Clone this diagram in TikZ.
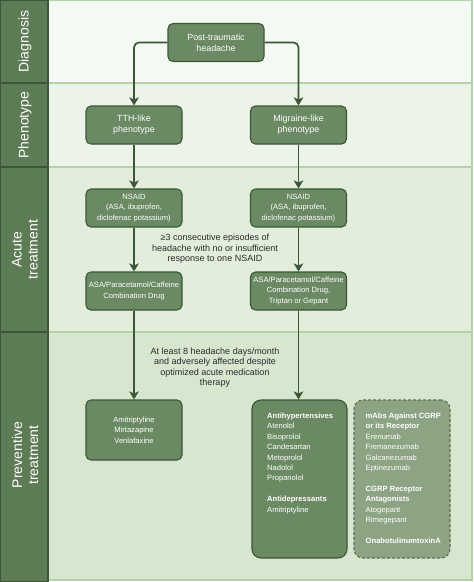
\documentclass[tikz,border=0pt]{standalone}
\usepackage{fontspec}
\setmainfont{Liberation Sans}
\usetikzlibrary{arrows.meta}
\definecolor{stripgreen}{HTML}{5D7B55}
\definecolor{darkgreen}{HTML}{3B5737}
\definecolor{boxgreen}{HTML}{6B8A63}
\definecolor{paleboxgreen}{HTML}{8CA483}
\definecolor{dashgrey}{HTML}{5E7059}
\definecolor{laneline}{HTML}{B3D2A7}
\definecolor{laneone}{HTML}{F5F9F3}
\definecolor{lanetwo}{HTML}{ECF3E8}
\definecolor{lanethree}{HTML}{E2EDDB}
\definecolor{lanefour}{HTML}{D6E6CF}
\definecolor{notegrey}{HTML}{2B2B2B}

\begin{document}
\begin{tikzpicture}[x=1pt,y=-1pt]
\tikzstyle{every node}+=[inner sep=0pt]
\tikzstyle{box}=[draw=darkgreen, fill=boxgreen, line width=1.1pt, rounded corners=5pt, text=white, align=center, minimum width=96pt, minimum height=38pt, font=\fontsize{7.6}{10.5}\selectfont]
\tikzstyle{bigbox}=[box, font=\fontsize{8.9}{11}\selectfont]
\tikzstyle{drugs}=[text=white, align=left, anchor=north west, font=\fontsize{7.6}{10.45}\selectfont]
\tikzstyle{flow}=[draw=darkgreen, line width=1.7pt, -{Stealth[length=8pt,width=9.5pt,inset=2pt]}]
\tikzstyle{lanelabel}=[rotate=90, text=white, align=center, font=\fontsize{14}{16}\selectfont]
\tikzstyle{note}=[text=notegrey, align=center, font=\fontsize{9}{10.5}\selectfont]
\useasboundingbox (0,0) rectangle (474,582);

% lanes
\draw[laneline, line width=1.2pt, fill=laneone] (48,0.6) rectangle (472,83);
\draw[laneline, line width=1.2pt, fill=lanetwo] (48,83) rectangle (472,167);
\draw[laneline, line width=1.2pt, fill=lanethree] (48,167) rectangle (472,332);
\draw[laneline, line width=1.2pt, fill=lanefour] (48,332) rectangle (472,580);

% left strip
\draw[darkgreen, line width=1.2pt, fill=stripgreen] (0.6,0.6) rectangle (48,83);
\draw[darkgreen, line width=1.2pt, fill=stripgreen] (0.6,83) rectangle (48,167);
\draw[darkgreen, line width=1.2pt, fill=stripgreen] (0.6,167) rectangle (48,332);
\draw[darkgreen, line width=1.2pt, fill=stripgreen] (0.6,332) rectangle (48,581.4);
\node[lanelabel] (diag) at (25,41.5) {Diagnosis};
\node[lanelabel] (pheno) at (25,125) {Phenotype};
\node[lanelabel] (acute) at (25,249.5) {Acute\\treatment};
\node[lanelabel] (prev) at (25,455) {Preventive\\treatment};

% diagnosis and phenotype
\node[bigbox] (pth) at (216,42.5) {Post-traumatic\\headache};
\node[bigbox] (tth) at (134,125) {TTH-like\\phenotype};
\node[bigbox] (mig) at (298.5,125) {Migraine-like\\phenotype};

% acute treatment
\node[box] (nsaidL) at (134,208) {NSAID\\(ASA, ibuprofen,\\diclofenac potassium)};
\node[box] (nsaidR) at (298.5,208) {NSAID\\(ASA, ibuprofen,\\diclofenac potassium)};
\node[box] (comboL) at (134,291) {ASA/Paracetamol/Caffeine\\Combination Drug};
\node[box] (comboR) at (298.5,291) {ASA/Paracetamol/Caffeine\\Combination Drug,\\Triptan or Gepant};
\node[note] (fail) at (215,249) {≥3 consecutive episodes of\\headache with no or insufficient\\response to one NSAID};

% preventive treatment
\node[note] (often) at (215,367.5) {At least 8 headache days/month\\and adversely affected despite\\optimized acute medication\\therapy};
\node[box, minimum height=60pt] (tcaL) at (134,430) {Amitriptyline\\Mirtazapine\\Venlafaxine};
\node[box, minimum width=95pt, minimum height=158pt, rounded corners=9pt] (oral) at (299.5,479) {};
\node[drugs] (oraltext) at (267,412.5) {\textbf{Antihypertensives}\\Atenolol\\Bisoprolol\\Candesartan\\Metoprolol\\Nadolol\\Propanolol\\[10.45pt]\textbf{Antidepressants}\\Amitriptyline};
\node[box, fill=paleboxgreen, draw=dashgrey, dash pattern=on 3pt off 2pt, minimum width=96pt, minimum height=158pt, rounded corners=9pt] (cgrp) at (402,479) {};
\node[drugs] (cgrptext) at (365.5,412.5) {\textbf{mAbs Against CGRP}\\\textbf{or its Receptor}\\Erenumab\\Fremanezumab\\Galcanezumab\\Eptinezumab\\[10.45pt]\textbf{CGRP Receptor}\\\textbf{Antagonists}\\Atogepant\\Rimegepant\\[10.45pt]\textbf{OnabotulinumtoxinA}};

% arrows
\draw[flow, rounded corners=5pt] (pth.west) -| (tth.north);
\draw[flow, rounded corners=5pt] (pth.east) -| (mig.north);
\draw[flow] (tth) -- (nsaidL);
\draw[flow] (mig) -- (nsaidR);
\draw[flow] (nsaidL) -- (comboL);
\draw[flow] (nsaidR) -- (comboR);
\draw[flow] (comboL) -- (tcaL);
\draw[flow] (comboR.south) -- (comboR.south |- oral.north);
\end{tikzpicture}
\end{document}
